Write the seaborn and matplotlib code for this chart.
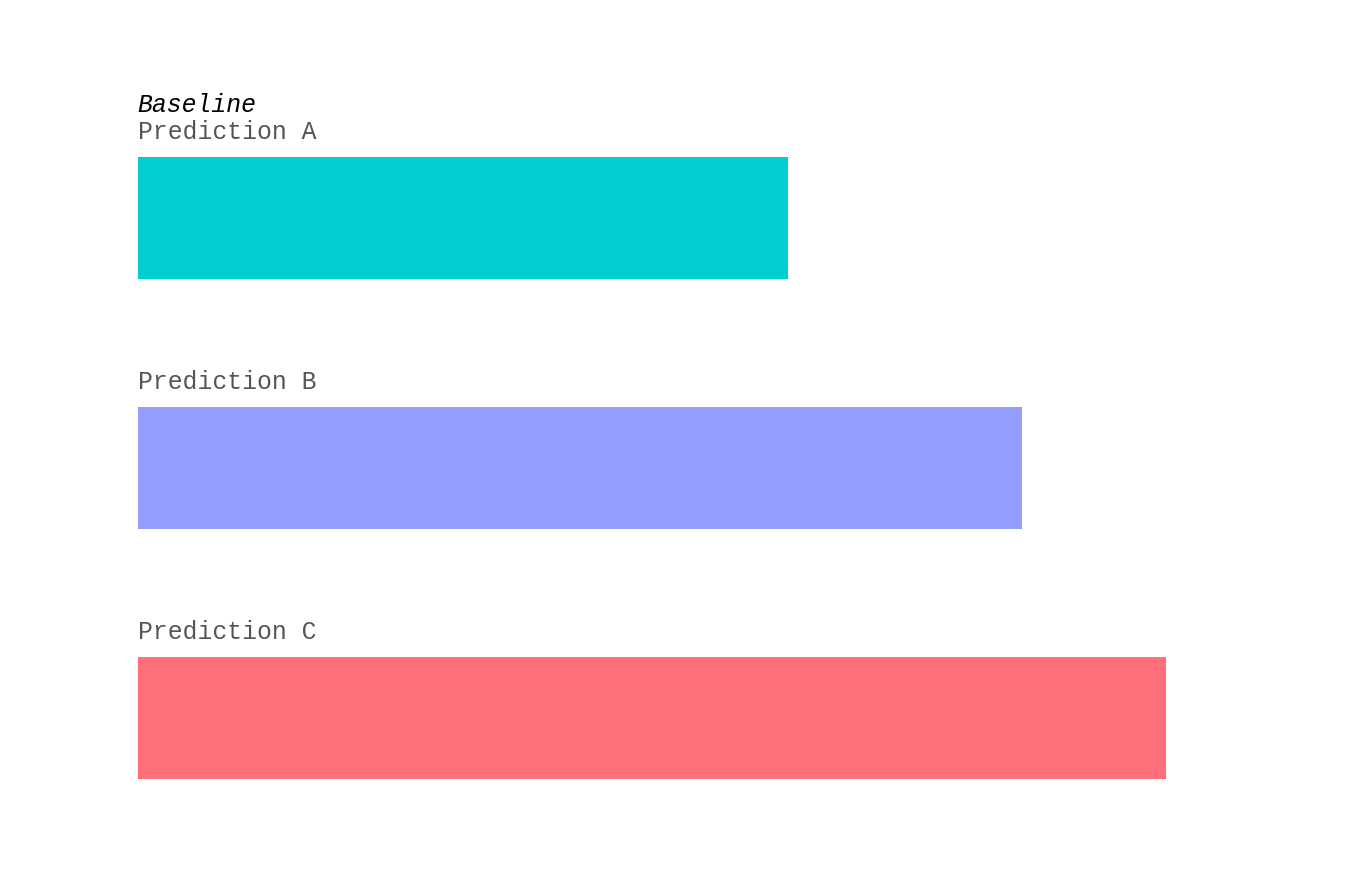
import pandas as pd
import matplotlib
matplotlib.use('Agg')
import matplotlib.pyplot as plt
import seaborn as sns

# values (longest bar = 100)
labels = ['Prediction A', 'Prediction B', 'Prediction C']
scores = [63.2, 86.0, 100.0]
colors = ['#00CED1', '#949EFF', '#FF6F7A']

df = pd.DataFrame({'label': labels, 'score': scores})

sns.set_style('white')
plt.rcParams['font.family'] = ['Liberation Mono', 'DejaVu Sans Mono']

fig = plt.figure(figsize=(13.62, 8.86), dpi=100)
# axes placed so the bars sit where they are in the reference
ax = fig.add_axes([137.5 / 1362, 1 - 843.0 / 886, 1028.5 / 1362, (843.0 - 93.0) / 886])

sns.barplot(data=df, y='label', x='score', hue='label', palette=colors,
            orient='h', width=0.49, saturation=1, linewidth=0, legend=False, ax=ax)

ax.set_xlim(0, 100)
ax.set_ylim(2.5, -0.5)
ax.set_axis_off()

# labels above each bar
for i, lab in enumerate(labels):
    ax.annotate(lab, xy=(0, i - 0.245), xytext=(0, 17.5), textcoords='offset points',
                ha='left', va='center', fontsize=17.8, color='#555555')

ax.annotate('Baseline', xy=(0, -0.245), xytext=(0, 37), textcoords='offset points',
            ha='left', va='center', fontsize=17.8, color='black', style='italic')

fig.savefig('out.png', dpi=100)
